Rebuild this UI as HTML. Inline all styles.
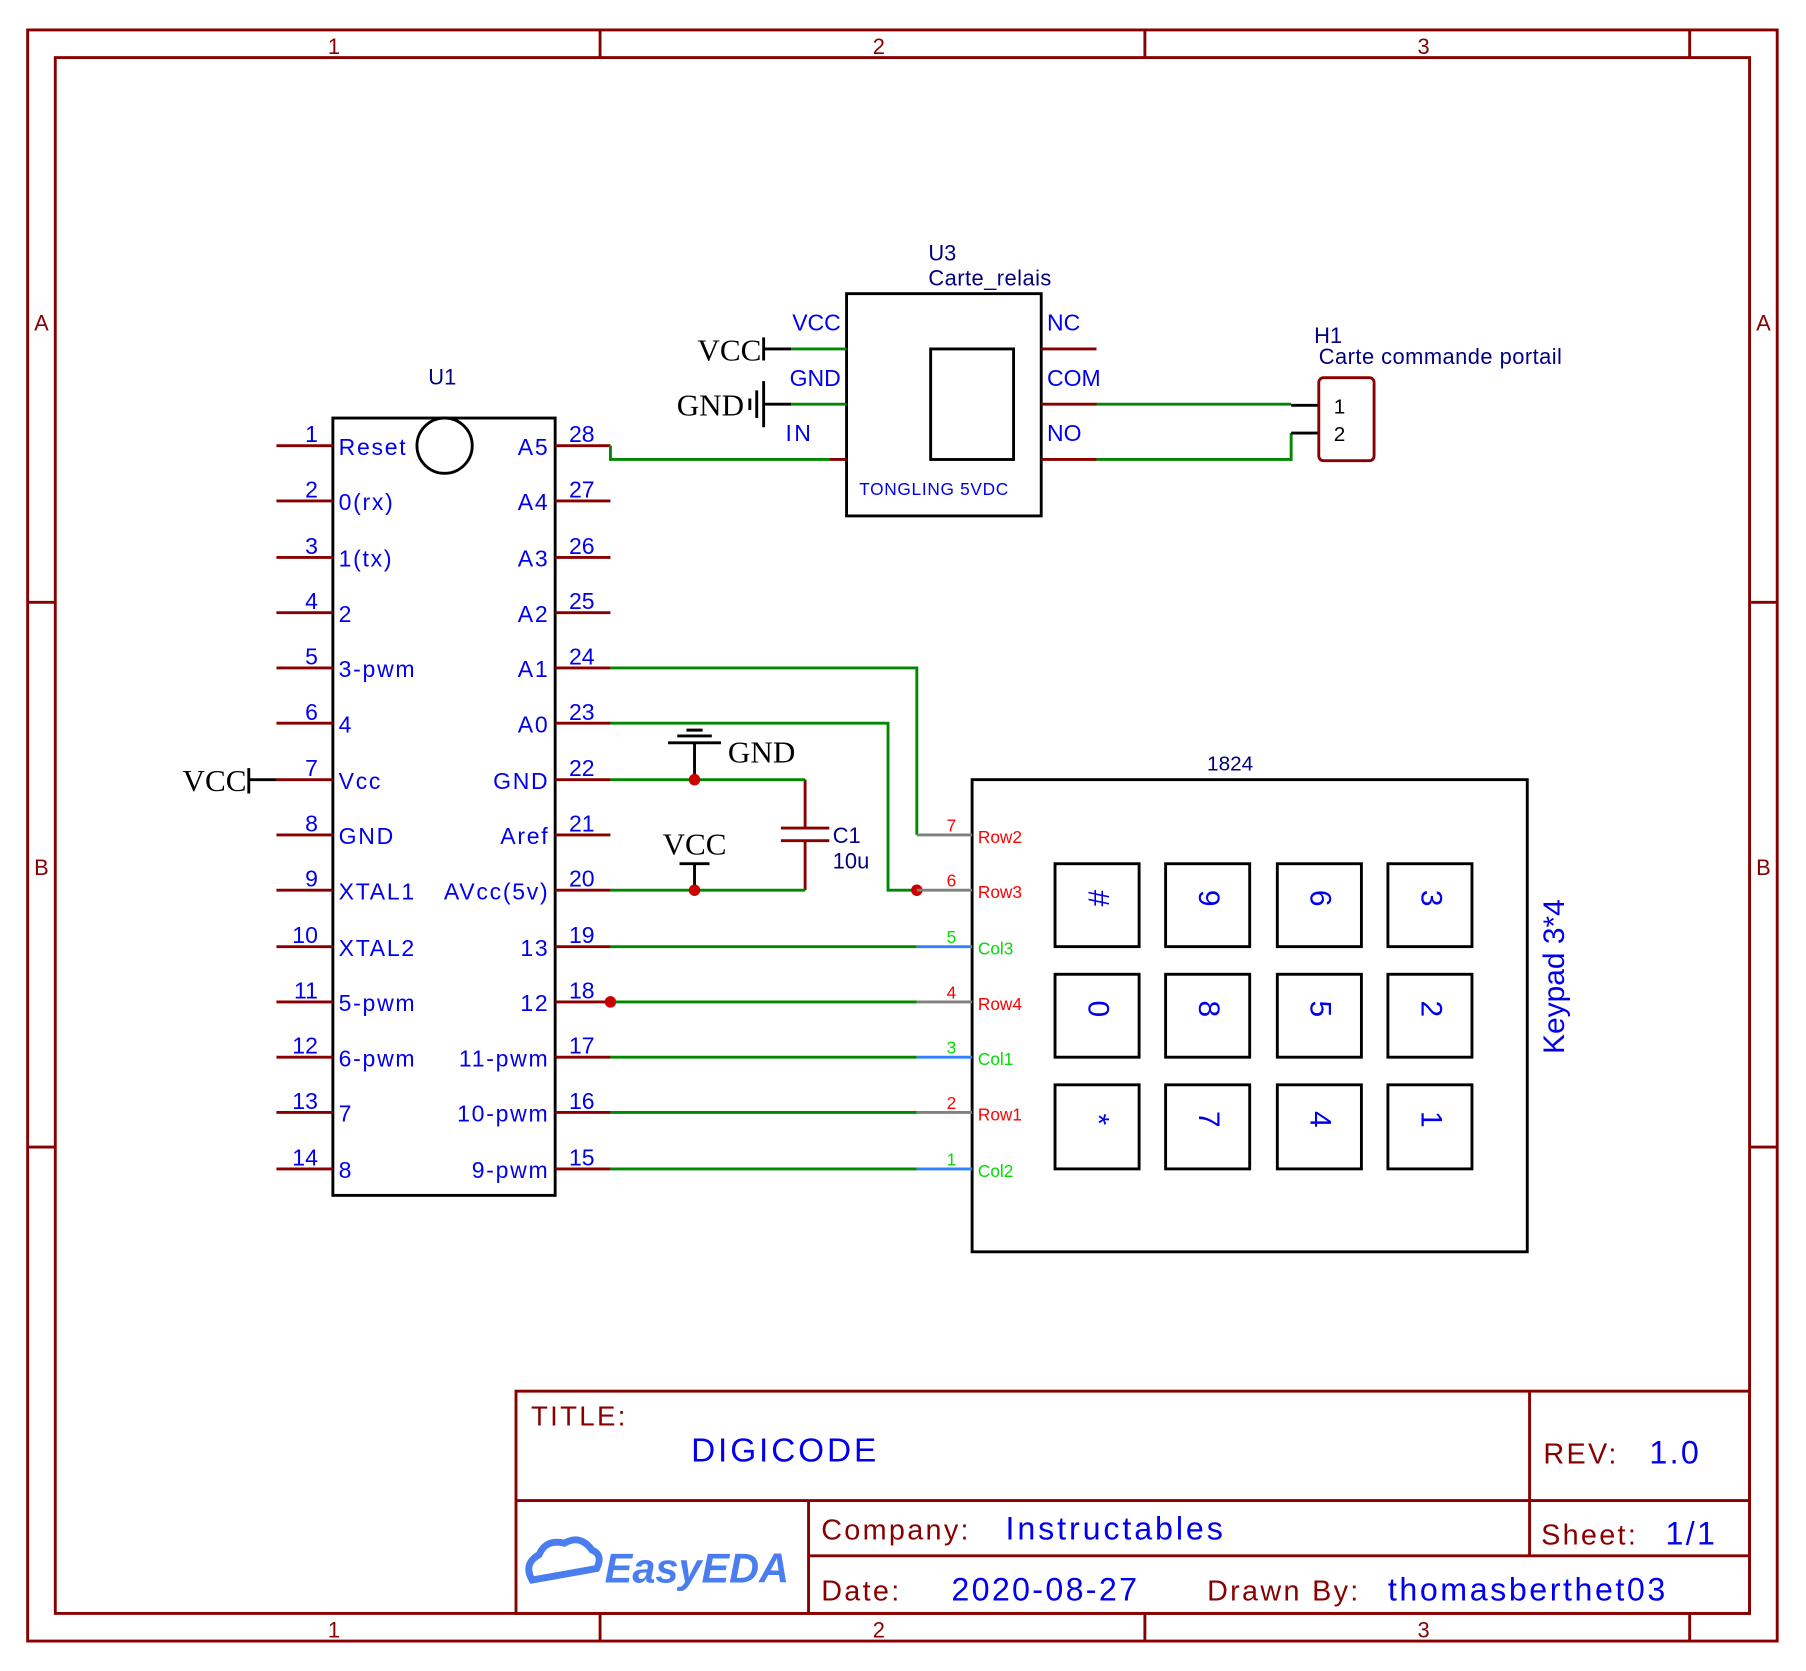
<!DOCTYPE html>
<html><head><meta charset="utf-8"><style>html,body{margin:0;padding:0;background:#fff}svg{display:block}</style></head><body>
<svg width="1806" height="1671" viewBox="0 0 1568 1451" preserveAspectRatio="none" xmlns="http://www.w3.org/2000/svg" font-family="Liberation Sans, sans-serif">
<g fill="none" stroke="#880000" stroke-width="2.5">
<rect x="24" y="26" width="1519" height="1399"/>
<rect x="48" y="50" width="1471" height="1351"/>
<path d="M521 26V50M994 26V50M1467 26V50M521 1401V1425M994 1401V1425M1467 1401V1425M24 523H48M24 996H48M1519 523H1543M1519 996H1543"/>
<rect x="448" y="1208" width="1071" height="193"/>
<path d="M448 1303H1519M702 1351H1519M702 1303V1401M1328 1208V1351"/>
</g>
<g fill="#880000" font-size="19" text-anchor="middle">
<text x="290" y="47">1</text><text x="763" y="47">2</text><text x="1236" y="47">3</text>
<text x="290" y="1422">1</text><text x="763" y="1422">2</text><text x="1236" y="1422">3</text>
<text x="36" y="287">A</text><text x="36" y="760">B</text><text x="1531" y="287">A</text><text x="1531" y="760">B</text>
</g>
<g font-size="25" letter-spacing="2">
<text x="461" y="1238" fill="#880000" font-size="24">TITLE:</text>
<text x="600" y="1269" fill="#0000ee" font-size="29" letter-spacing="2.5">DIGICODE</text>
<text x="1340" y="1271" fill="#880000">REV:</text><text x="1432" y="1271" fill="#0000ee" font-size="28">1.0</text>
<text x="713" y="1337" fill="#880000">Company:</text><text x="873" y="1337" fill="#0000ee" font-size="28" letter-spacing="2.5">Instructables</text>
<text x="1338" y="1341" fill="#880000">Sheet:</text><text x="1446" y="1341" fill="#0000ee" font-size="28">1/1</text>
<text x="713" y="1390" fill="#880000">Date:</text><text x="826" y="1390" fill="#0000ee" font-size="28">2020-08-27</text>
<text x="1048" y="1390" fill="#880000">Drawn By:</text><text x="1205" y="1390" fill="#0000ee" font-size="28" letter-spacing="2.2">thomasberthet03</text>
</g>
<g>
<path d="M462 1372 q-8 -14 6 -22 q6 -14 22 -10 q14 -8 24 6 q10 4 4 16 z" fill="none" stroke="#4a7ef0" stroke-width="6"/>
<text x="525" y="1374" fill="#4a7ef0" font-size="36" font-weight="bold" font-style="italic">EasyEDA</text>
</g>
<rect x="289" y="363" width="193" height="675" fill="none" stroke="#000" stroke-width="2.5"/>
<circle cx="386" cy="387" r="24" fill="none" stroke="#000" stroke-width="2.5"/>
<text x="384" y="334" fill="#000080" font-size="19" text-anchor="middle">U1</text>
<g stroke="#880000" stroke-width="2.5">
<path d="M240 387H289M240 435H289M240 484H289M240 532H289M240 580H289M240 628H289M240 677H289M240 725H289M240 773H289M240 822H289M240 870H289M240 918H289M240 966H289M240 1015H289"/>
<path d="M482 387H530M482 435H530M482 484H530M482 532H530M482 580H530M482 628H530M482 677H530M482 725H530M482 773H530M482 822H530M482 870H530M482 918H530M482 966H530M482 1015H530"/>
</g>
<g fill="#0000ee" font-size="20">
<g text-anchor="end">
<text x="276" y="384">1</text><text x="276" y="432">2</text><text x="276" y="481">3</text><text x="276" y="529">4</text><text x="276" y="577">5</text><text x="276" y="625">6</text><text x="276" y="674">7</text><text x="276" y="722">8</text><text x="276" y="770">9</text><text x="276" y="819">10</text><text x="276" y="867">11</text><text x="276" y="915">12</text><text x="276" y="963">13</text><text x="276" y="1012">14</text>
</g>
<g>
<text x="494" y="384">28</text><text x="494" y="432">27</text><text x="494" y="481">26</text><text x="494" y="529">25</text><text x="494" y="577">24</text><text x="494" y="625">23</text><text x="494" y="674">22</text><text x="494" y="722">21</text><text x="494" y="770">20</text><text x="494" y="819">19</text><text x="494" y="867">18</text><text x="494" y="915">17</text><text x="494" y="963">16</text><text x="494" y="1012">15</text>
</g>
<g letter-spacing="1.5">
<text x="294" y="395">Reset</text><text x="294" y="443">0(rx)</text><text x="294" y="492">1(tx)</text><text x="294" y="540">2</text><text x="294" y="588">3-pwm</text><text x="294" y="636">4</text><text x="294" y="685">Vcc</text><text x="294" y="733">GND</text><text x="294" y="781">XTAL1</text><text x="294" y="830">XTAL2</text><text x="294" y="878">5-pwm</text><text x="294" y="926">6-pwm</text><text x="294" y="974">7</text><text x="294" y="1023">8</text>
</g>
<g text-anchor="end" letter-spacing="1.5">
<text x="477" y="395">A5</text><text x="477" y="443">A4</text><text x="477" y="492">A3</text><text x="477" y="540">A2</text><text x="477" y="588">A1</text><text x="477" y="636">A0</text><text x="477" y="685">GND</text><text x="477" y="733">Aref</text><text x="477" y="781">AVcc(5v)</text><text x="477" y="830">13</text><text x="477" y="878">12</text><text x="477" y="926">11-pwm</text><text x="477" y="974">10-pwm</text><text x="477" y="1023">9-pwm</text>
</g>
</g>
<g stroke="#000" stroke-width="2.5" fill="none">
<path d="M216 667V689M216 677H240"/>
<path d="M663 293V313M663 303H687"/>
<path d="M663 331V371M657 339V363M651 346V356M663 351H687"/>
<path d="M580 645H626M588 639H618M596 634H610M603 645V677"/>
<path d="M590 750H616M603 750V773"/>
</g>
<g font-family="Liberation Serif, serif" font-size="27" fill="#000">
<text x="214" y="687" text-anchor="end">VCC</text>
<text x="661" y="313" text-anchor="end">VCC</text>
<text x="646" y="361" text-anchor="end">GND</text>
<text x="632" y="662">GND</text>
<text x="603" y="742" text-anchor="middle">VCC</text>
</g>
<rect x="735" y="255" width="169" height="193" fill="none" stroke="#000" stroke-width="2.5"/>
<rect x="808" y="303" width="72" height="96" fill="none" stroke="#000" stroke-width="2.5"/>
<g fill="#000080" font-size="19"><text x="806" y="226">U3</text><text x="806" y="248" letter-spacing="0.4">Carte_relais</text><text x="1141" y="298">H1</text><text x="1145" y="316" letter-spacing="0.4">Carte commande portail</text></g>
<g fill="#0000ee" font-size="20">
<text x="730" y="287" text-anchor="end">VCC</text><text x="730" y="335" text-anchor="end">GND</text><text x="706" y="383" text-anchor="end" letter-spacing="2">IN</text>
<text x="909" y="287">NC</text><text x="909" y="335">COM</text><text x="909" y="383">NO</text>
<text x="746" y="430" font-size="15" letter-spacing="0.6">TONGLING 5VDC</text>
</g>
<g stroke-width="2.5" fill="none">
<path d="M687 303H735M687 351H735" stroke="#008800"/>
<path d="M720 399H735M904 303H952M904 351H952M904 399H952" stroke="#880000"/>
<path d="M530 387V399H720M952 351H1121M952 399H1121V376" stroke="#008800"/>
<path d="M1121 352H1145M1121 376H1145" stroke="#000"/>
<rect x="1145" y="328" width="48" height="72" rx="4" stroke="#880000"/>
</g>
<g font-size="18" fill="#000"><text x="1158" y="359">1</text><text x="1158" y="383">2</text></g>
<g stroke="#880000" stroke-width="2.5" fill="none">
<path d="M699 677V719M699 730V773M678 719H720M678 730H720"/>
</g>
<g fill="#000080" font-size="19"><text x="723" y="732">C1</text><text x="723" y="754">10u</text></g>
<g stroke="#008800" stroke-width="2.5" fill="none">
<path d="M530 580H796V725"/>
<path d="M530 628H771V773H796"/>
<path d="M530 677H699M530 773H699"/>
<path d="M530 822H796M530 870H796M530 918H796M530 966H796M530 1015H796"/>
</g>
<g fill="#cc0000"><circle cx="603" cy="677" r="5"/><circle cx="603" cy="773" r="5"/><circle cx="796" cy="773" r="5"/><circle cx="530" cy="870" r="5"/></g>
<rect x="844" y="677" width="482" height="410" fill="none" stroke="#000" stroke-width="2.5"/>
<text x="1068" y="669" fill="#000080" font-size="18" text-anchor="middle">1824</text>
<g stroke-width="2.5">
<path d="M796 725H844M796 773H844M796 870H844M796 966H844" stroke="#808080"/>
<path d="M796 822H844M796 918H844M796 1015H844" stroke="#3080ff"/>
</g>
<g font-size="15">
<text x="826" y="722" fill="#ff0000" text-anchor="middle">7</text><text x="826" y="770" fill="#ff0000" text-anchor="middle">6</text><text x="826" y="819" fill="#00dd00" text-anchor="middle">5</text><text x="826" y="867" fill="#ff0000" text-anchor="middle">4</text><text x="826" y="915" fill="#00dd00" text-anchor="middle">3</text><text x="826" y="963" fill="#ff0000" text-anchor="middle">2</text><text x="826" y="1012" fill="#00dd00" text-anchor="middle">1</text>
<text x="849" y="732" fill="#ff0000">Row2</text><text x="849" y="780" fill="#ff0000">Row3</text><text x="849" y="829" fill="#00dd00">Col3</text><text x="849" y="877" fill="#ff0000">Row4</text><text x="849" y="925" fill="#00dd00">Col1</text><text x="849" y="973" fill="#ff0000">Row1</text><text x="849" y="1022" fill="#00dd00">Col2</text>
</g>
<g fill="none" stroke="#000" stroke-width="2.5">
<rect x="916" y="750" width="73" height="72"/><rect x="1012" y="750" width="73" height="72"/><rect x="1109" y="750" width="73" height="72"/><rect x="1205" y="750" width="73" height="72"/>
<rect x="916" y="846" width="73" height="72"/><rect x="1012" y="846" width="73" height="72"/><rect x="1109" y="846" width="73" height="72"/><rect x="1205" y="846" width="73" height="72"/>
<rect x="916" y="942" width="73" height="73"/><rect x="1012" y="942" width="73" height="73"/><rect x="1109" y="942" width="73" height="73"/><rect x="1205" y="942" width="73" height="73"/>
</g>
<g fill="#0000ee" font-size="26" text-anchor="middle">
<text transform="translate(945,780) rotate(90)">#</text><text transform="translate(1041,780) rotate(90)">9</text><text transform="translate(1138,780) rotate(90)">6</text><text transform="translate(1234,780) rotate(90)">3</text>
<text transform="translate(945,876) rotate(90)">0</text><text transform="translate(1041,876) rotate(90)">8</text><text transform="translate(1138,876) rotate(90)">5</text><text transform="translate(1234,876) rotate(90)">2</text>
<text transform="translate(945,972) rotate(90)">*</text><text transform="translate(1041,972) rotate(90)">7</text><text transform="translate(1138,972) rotate(90)">4</text><text transform="translate(1234,972) rotate(90)">1</text>
<text transform="translate(1358,848) rotate(-90)" font-size="26">Keypad 3*4</text>
</g>
</svg>
</body></html>
